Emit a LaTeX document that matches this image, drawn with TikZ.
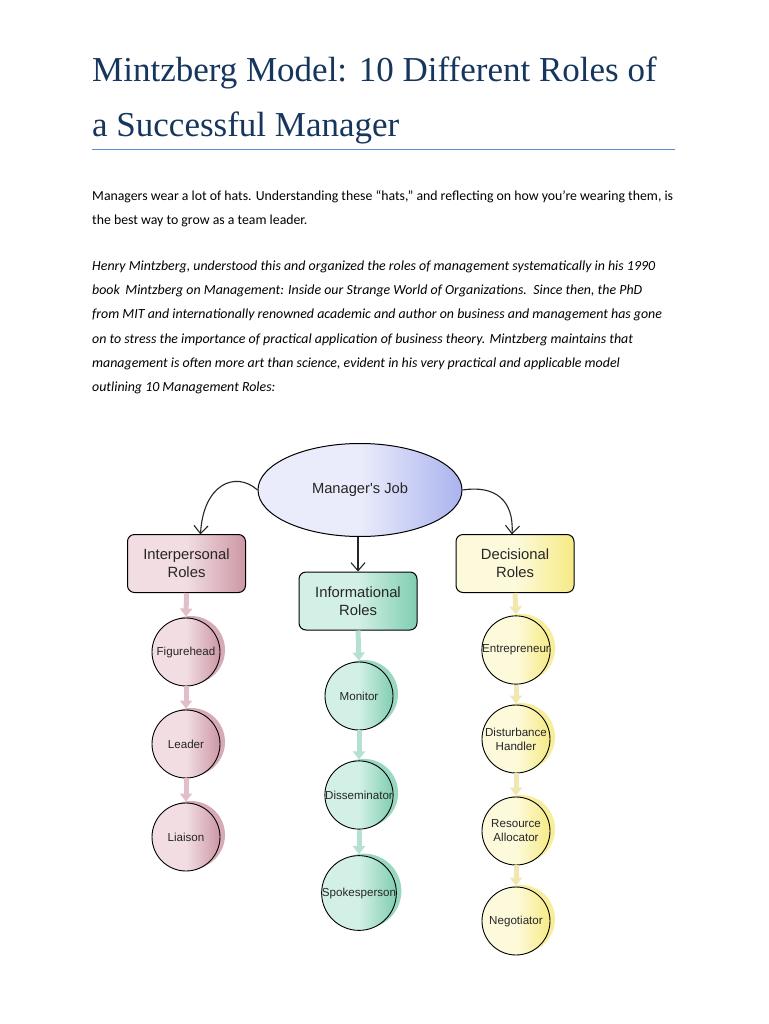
\documentclass[tikz,border=0pt]{standalone}
\usepackage{fontspec}
\setmainfont{Carlito}
\newfontfamily\titlefont{Liberation Serif}
\newfontfamily\diagfont{Liberation Sans}
\usetikzlibrary{arrows.meta,shapes.geometric,shadows}
\definecolor{titleblue}{HTML}{17365D}
\definecolor{rulecol}{HTML}{5A8AD0}
\definecolor{pinkL}{HTML}{F1DDE2}
\definecolor{pinkD}{HTML}{CC97A5}
\definecolor{pinkA}{HTML}{E2BFC8}
\definecolor{greenL}{HTML}{D2F0E5}
\definecolor{greenD}{HTML}{80CDB1}
\definecolor{greenA}{HTML}{B4E1D0}
\definecolor{yelL}{HTML}{FDFADB}
\definecolor{yelD}{HTML}{F6EA84}
\definecolor{yelA}{HTML}{F0E8B0}
\definecolor{lavL}{HTML}{EAECFB}
\definecolor{lavD}{HTML}{AAB3EE}
\tikzset{
  titletext/.style={anchor=base west, inner sep=0pt, text=titleblue, font=\titlefont\fontsize{35}{38}\selectfont},
  bodytext/.style={anchor=base west, inner sep=0pt, font=\fontsize{13.8}{16}\selectfont},
  italtext/.style={anchor=base west, inner sep=0pt, font=\fontsize{13.9}{16}\selectfont\itshape},
  rolebox/.style={draw=black, line width=1pt, rounded corners=7pt, minimum width=118pt, minimum height=58pt,
    align=center, font=\diagfont\fontsize{14.8}{18}\selectfont, text=black!85},
  rolecirc/.style={circle, draw=black, line width=0.9pt, minimum size=68pt, inner sep=0pt,
    align=center, font=\diagfont\fontsize{11.6}{14}\selectfont, text=black!85},
  pinkfill/.style={left color=pinkL, right color=pinkD, middle color=pinkL},
  greenfill/.style={left color=greenL, right color=greenD, middle color=greenL},
  yelfill/.style={left color=yelL, right color=yelD, middle color=yelL},
  pinkshadow/.style={drop shadow={shadow xshift=5pt, shadow yshift=2pt, fill=pinkD, opacity=0.8}},
  greenshadow/.style={drop shadow={shadow xshift=5pt, shadow yshift=2pt, fill=greenD, opacity=0.8}},
  yelshadow/.style={drop shadow={shadow xshift=5pt, shadow yshift=2pt, fill=yelD, opacity=0.8}},
  fatarrow/.style={line width=5pt, draw=#1, -{Triangle[length=8pt,width=12pt]}, shorten >=1pt},
  barbarrow/.style={line width=1.1pt, draw=black!85, -{Straight Barb[length=8pt,width=14pt]}},
}
\begin{document}
\begin{tikzpicture}[x=1pt,y=-1pt]
\useasboundingbox (0,0) rectangle (768,1024);
\fill[white] (0,0) rectangle (768,1024);

% Title
\node[titletext] (t1) at (92,82) {Mintzberg Model: 10 Different Roles of};
\node[titletext] (t2) at (92,137) {a Successful Manager};
\coordinate (rl) at (92,149.5);
\coordinate (rr) at (675,149.5);
\draw[rulecol, line width=1.1pt] (rl) -- (rr);

% Body
\node[bodytext] (b1) at (92,201) {Managers wear a lot of hats. Understanding these “hats,” and reflecting on how you’re wearing them, is};
\node[bodytext] (b2) at (92,225) {the best way to grow as a team leader.};
\node[italtext] (i1) at (92,270) {Henry Mintzberg, understood this and organized the roles of management systematically in his 1990};
\node[italtext] (i2) at (92,294.3) {book \,Mintzberg on Management: Inside our Strange World of Organizations. \,Since then, the PhD};
\node[italtext] (i3) at (92,318.6) {from MIT and internationally renowned academic and author on business and management has gone};
\node[italtext] (i4) at (92,343) {on to stress the importance of practical application of business theory. Mintzberg maintains that};
\node[italtext] (i5) at (92,367.3) {management is often more art than science, evident in his very practical and applicable model};
\node[italtext] (i6) at (92,391.6) {outlining 10 Management Roles:};

% Diagram
\node[ellipse, draw=black, line width=1pt, minimum width=204pt, minimum height=93pt,
      left color=lavL, right color=lavD, middle color=lavL,
      font=\diagfont\fontsize{14.7}{17}\selectfont, text=black!85] (job) at (360,490) {Manager's Job};

\node[rolebox, pinkfill] (ip) at (186.5,563.5) {Interpersonal\\Roles};
\node[rolebox, greenfill] (inf) at (358,601) {Informational\\Roles};
\node[rolebox, yelfill] (dec) at (515,563.5) {Decisional\\Roles};

\coordinate (ipin) at (200.5,534.5);
\coordinate (decin) at (512,534.5);
\draw[barbarrow] (job.west) .. controls (235,470) and (203,485) .. (ipin);
\draw[barbarrow] (job.east) .. controls (495,485) and (514,500) .. (decin);
\draw[barbarrow] (job.south -| inf.north) -- (inf.north);

% Interpersonal column
\node[rolecirc, pinkfill, pinkshadow] (fig) at (186,652) {Figurehead};
\node[rolecirc, pinkfill, pinkshadow] (lead) at (186,744) {Leader};
\node[rolecirc, pinkfill, pinkshadow] (lia) at (186,837) {Liaison};
\draw[fatarrow=pinkA] (ip.south) -- (fig.north);
\draw[fatarrow=pinkA] (fig.south) -- (lead.north);
\draw[fatarrow=pinkA] (lead.south) -- (lia.north);

% Informational column
\node[rolecirc, greenfill, greenshadow] (mon) at (359,696) {Monitor};
\node[rolecirc, greenfill, greenshadow] (dis) at (359,795) {Disseminator};
\node[rolecirc, greenfill, greenshadow] (spo) at (359,893) {Spokesperson};
\draw[fatarrow=greenA] (inf.south) -- (mon.north);
\draw[fatarrow=greenA] (mon.south) -- (dis.north);
\draw[fatarrow=greenA] (dis.south) -- (spo.north);

% Decisional column
\node[rolecirc, yelfill, yelshadow] (ent) at (516,650) {Entrepreneur};
\node[rolecirc, yelfill, yelshadow] (dh) at (516,739) {Disturbance\\Handler};
\node[rolecirc, yelfill, yelshadow] (ra) at (516,831) {Resource\\Allocator};
\node[rolecirc, yelfill, yelshadow] (neg) at (516,921) {Negotiator};
\draw[fatarrow=yelA] (dec.south) -- (ent.north);
\draw[fatarrow=yelA] (ent.south) -- (dh.north);
\draw[fatarrow=yelA] (dh.south) -- (ra.north);
\draw[fatarrow=yelA] (ra.south) -- (neg.north);
\end{tikzpicture}
\end{document}
